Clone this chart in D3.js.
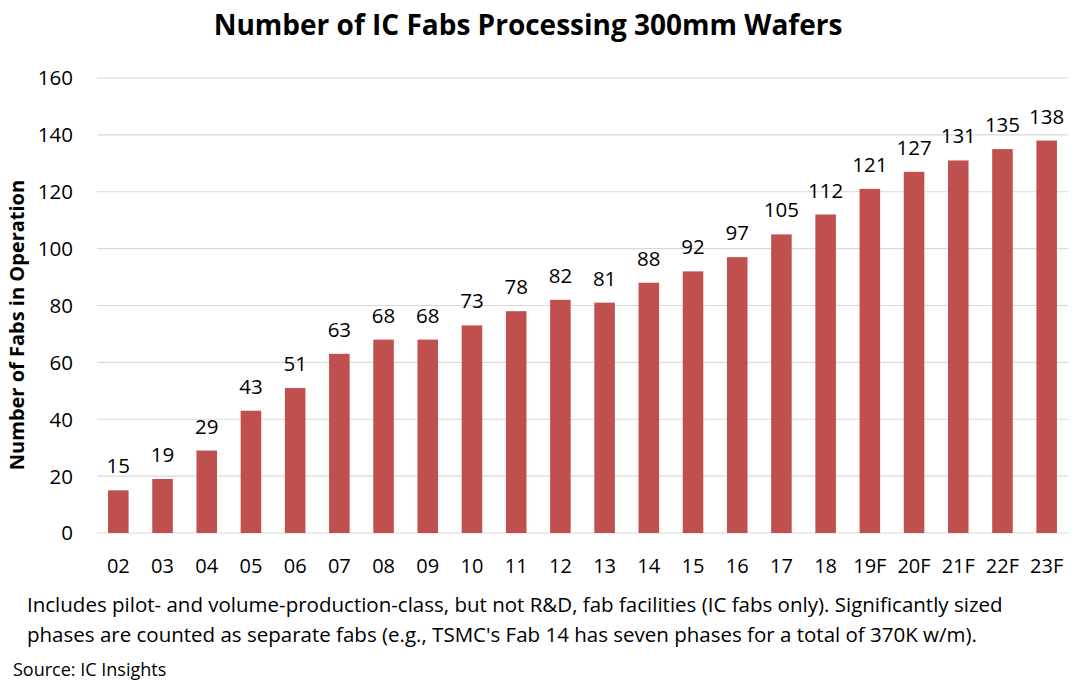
<!DOCTYPE html>
<html>
<head>
<meta charset="utf-8">
<script src="https://cdn.jsdelivr.net/npm/d3@7"></script>
<style>
  body { margin: 0; background: #fff; }
  text { font-family: "Open Sans", "Noto Sans", sans-serif; fill: #000; }
</style>
</head>
<body>
<svg id="chart" width="1090" height="689"></svg>
<script>
var years = ["02", "03", "04", "05", "06", "07", "08", "09", "10", "11", "12",
             "13", "14", "15", "16", "17", "18", "19F", "20F", "21F", "22F", "23F"];
var fabs = [15, 19, 29, 43, 51, 63, 68, 68, 73, 78, 82, 81, 88, 92, 97, 105, 112, 121, 127, 131, 135, 138];
var yTicks = [0, 20, 40, 60, 80, 100, 120, 140, 160];

var title = "Number of IC Fabs Processing 300mm Wafers";
var yTitle = "Number of Fabs in Operation";
var notes = [
    "Includes pilot- and volume-production-class, but not R&D, fab facilities (IC fabs only).  Significantly sized",
    "phases are counted as separate fabs (e.g., TSMC's Fab 14 has seven phases for a total of 370K w/m)."
];
var source = "Source: IC Insights";

var svg = d3.select("#chart");
var plotLeft = 97, plotRight = 1068, plotTop = 78, plotBottom = 533;

var x = d3.scaleBand().domain(years).range([plotLeft, plotRight]).paddingInner(0.535).paddingOuter(0.25);
var y = d3.scaleLinear().domain([0, 160]).range([plotBottom, plotTop]);

// gridlines
svg.append("g")
    .selectAll("line")
    .data(yTicks)
    .enter().append("line")
    .attr("x1", plotLeft).attr("x2", plotRight)
    .attr("y1", function(d) { return y(d); })
    .attr("y2", function(d) { return y(d); })
    .attr("stroke", "#d9d9d9")
    .attr("stroke-width", 1.2);

// y tick labels
svg.append("g")
    .selectAll("text")
    .data(yTicks)
    .enter().append("text")
    .attr("x", 73)
    .attr("y", function(d) { return y(d); })
    .attr("dy", "0.36em")
    .attr("text-anchor", "end")
    .style("font-size", "20.5px")
    .text(function(d) { return d; });

// bars
svg.append("g")
    .selectAll("rect")
    .data(fabs)
    .enter().append("rect")
    .attr("x", function(d, i) { return x(years[i]); })
    .attr("width", x.bandwidth())
    .attr("y", function(d) { return y(d); })
    .attr("height", function(d) { return y(0) - y(d); })
    .attr("fill", "#c0504d");

// value labels
svg.append("g")
    .selectAll("text")
    .data(fabs)
    .enter().append("text")
    .attr("x", function(d, i) { return x(years[i]) + x.bandwidth() / 2; })
    .attr("y", function(d) { return y(d) - 17; })
    .attr("text-anchor", "middle")
    .style("font-size", "20.5px")
    .text(function(d) { return d; });

// x labels
svg.append("g")
    .selectAll("text")
    .data(years)
    .enter().append("text")
    .attr("x", function(d) { return x(d) + x.bandwidth() / 2; })
    .attr("y", 573)
    .attr("text-anchor", "middle")
    .style("font-size", "20px")
    .text(function(d) { return d; });

svg.append("text")
    .attr("x", 528).attr("y", 35)
    .attr("text-anchor", "middle")
    .style("font-size", "28px")
    .style("font-weight", "bold")
    .text(title);

svg.append("text")
    .attr("transform", "translate(24,325) rotate(-90)")
    .attr("text-anchor", "middle")
    .style("font-size", "20px")
    .style("font-weight", "bold")
    .text(yTitle);

svg.selectAll(".note")
    .data(notes)
    .enter().append("text")
    .attr("class", "note")
    .attr("x", 27)
    .attr("y", function(d, i) { return 612 + i * 30; })
    .style("font-size", "20.5px")
    .text(function(d) { return d; });

svg.append("text")
    .attr("x", 13).attr("y", 676)
    .style("font-size", "18px")
    .text(source);
</script>
</body>
</html>
